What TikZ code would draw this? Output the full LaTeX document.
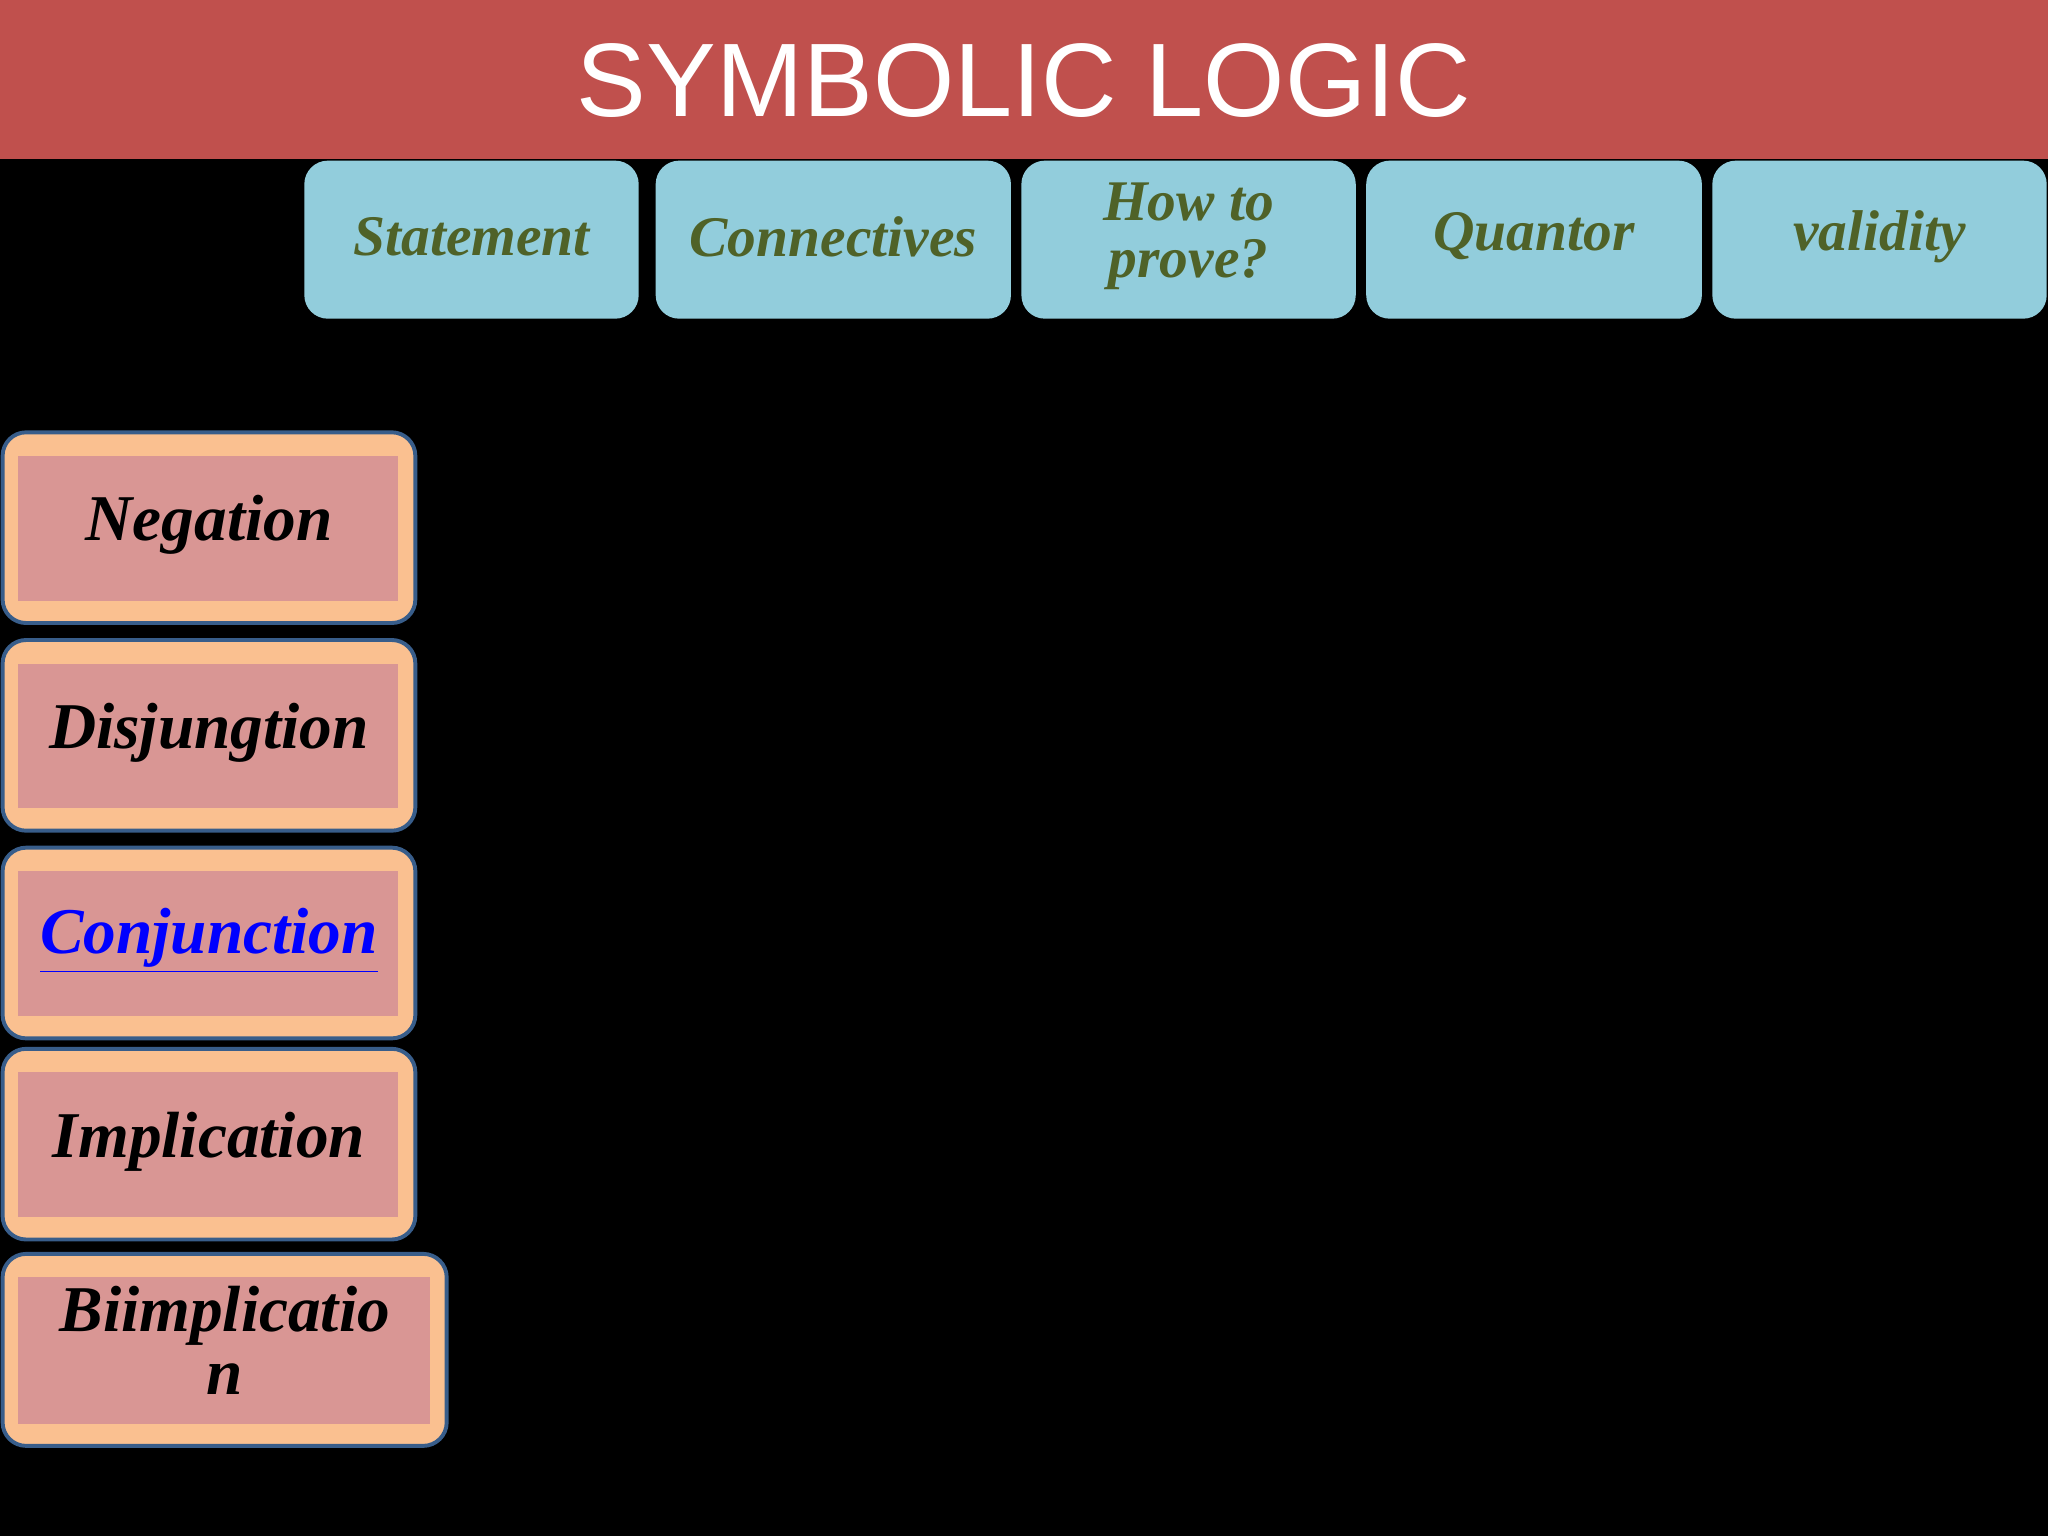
\documentclass[tikz,border=0pt]{standalone}
\usepackage{fontspec}
\newfontfamily\titlefont{Liberation Sans}
\newfontfamily\scriptf{Liberation Serif}
\definecolor{titlered}{HTML}{C0504D}
\definecolor{topblue}{HTML}{92CDDC}
\definecolor{tgreen}{HTML}{4F6228}
\definecolor{outerorg}{HTML}{FAC090}
\definecolor{innerpink}{HTML}{D99694}
\definecolor{edgeblue}{HTML}{385D8A}
\tikzset{
 topbox/.style={fill=topblue,rounded corners=9pt,draw=none},
 toptext/.style={text=tgreen,font=\scriptf\itshape\bfseries\fontsize{22}{22}\selectfont,align=center},
 outerbox/.style={fill=outerorg,draw=edgeblue,line width=1.5pt,rounded corners=9pt},
 innerbox/.style={fill=innerpink,draw=none},
 lefttext/.style={text=black,font=\scriptf\itshape\bfseries\fontsize{25}{24}\selectfont,align=center}
}
\begin{document}
\begin{tikzpicture}[x=0.5pt,y=-0.5pt]
\useasboundingbox (0,0) rectangle (1568,1176);
\fill[black] (0,0) rectangle (1568,1176);
\fill[titlered] (0,0) rectangle (1568,122);
\node[text=white,font=\titlefont\fontsize{40}{40}\selectfont] (title) at (784,62) {SYMBOLIC LOGIC};
\foreach \a/\b/\t/\n in {233/489/Statement/s,502/774/Connectives/c,782/1038/{How to\\prove?}/h,1046/1303/Quantor/q,1311/1567/validity/v}{
  \path[topbox] (\a,123) rectangle (\b,244);
  \node[toptext] (top\n) at ({(\a+\b)/2},181) {\t};
}
\foreach \y/\h/\t/\n in {331/146/Negation/neg,490/146/Disjungtion/dis,649/146/Conjunction/con,803/146/Implication/imp}{
  \path[outerbox] (2,\y) rectangle (318,\y+\h);
  \fill[innerbox] (14,\y+18) rectangle (305,\y+\h-17);
}
\node[lefttext] (neg) at (160,402) {Negation};
\node[lefttext] (dis) at (160,561) {Disjungtion};
\node[lefttext,text=blue] (con) at (160,720) {\underline{Conjunction}};
\node[lefttext] (imp) at (160,874) {Implication};
\path[outerbox] (2,960) rectangle (342,1107);
\fill[innerbox] (14,978) rectangle (329,1090);
\node[lefttext] (bii) at (172,1026) {Biimplicatio\\n};
\end{tikzpicture}
\end{document}
